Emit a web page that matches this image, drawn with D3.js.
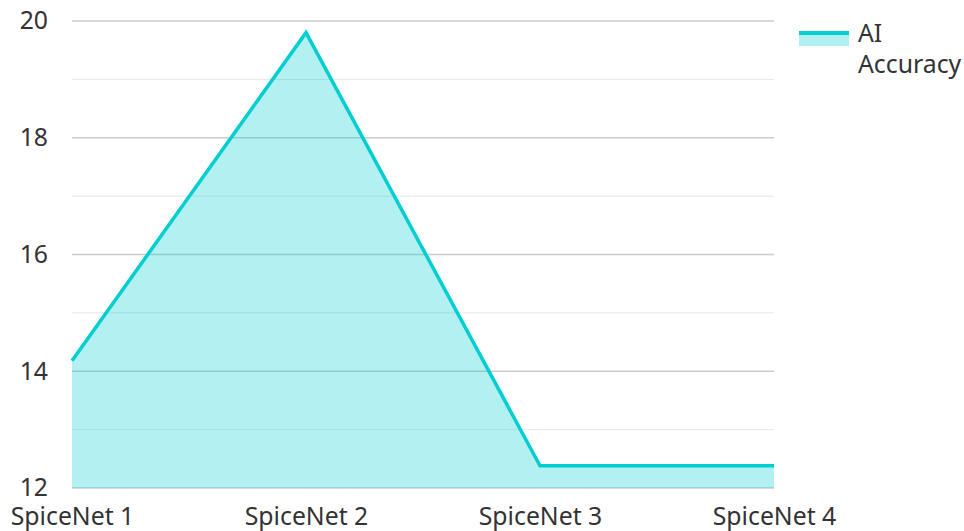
<!DOCTYPE html>
<html><head><meta charset="utf-8">
<script src="https://cdn.jsdelivr.net/npm/d3@7"></script>
<style>
html,body{margin:0;padding:0;background:#fff;}
svg text{font-family:"Noto Sans","Open Sans",sans-serif;fill:#333;}
</style></head>
<body><svg id="c" width="964" height="531"></svg>
<script>
const categories = ["SpiceNet 1", "SpiceNet 2", "SpiceNet 3", "SpiceNet 4"];
const accuracy = [14.18, 19.8, 12.38, 12.38];
const seriesName = ["AI", "Accuracy"];
const majorTicks = [12, 14, 16, 18, 20];
const minorTicks = [13, 15, 17, 19];

const color = "#00CED1";
const svg = d3.select("#c");
const mLeft = 72, mRight = 774, mTop = 21, mBottom = 488;
const fontSize = 24.8;

const x = d3.scalePoint().domain(categories).range([mLeft, mRight]).padding(0);
const y = d3.scaleLinear().domain([12, 20]).range([mBottom, mTop]);

// minor grid
svg.append("g").selectAll("line").data(minorTicks).join("line")
  .attr("x1", mLeft).attr("x2", mRight)
  .attr("y1", d => y(d)).attr("y2", d => y(d))
  .attr("stroke", "#e6e6e6").attr("stroke-width", 1);
// major grid
svg.append("g").selectAll("line").data(majorTicks).join("line")
  .attr("x1", mLeft).attr("x2", mRight)
  .attr("y1", d => y(d)).attr("y2", d => y(d))
  .attr("stroke", "#cccccc").attr("stroke-width", 1.5);

const data = categories.map((c, i) => ({c, v: accuracy[i]}));

svg.append("path").datum(data)
  .attr("d", d3.area().x(d => x(d.c)).y0(y(12)).y1(d => y(d.v)))
  .attr("fill", color).attr("fill-opacity", 0.3);

svg.append("path").datum(data)
  .attr("d", d3.line().x(d => x(d.c)).y(d => y(d.v)))
  .attr("fill", "none").attr("stroke", color).attr("stroke-width", 3.5);

// y axis labels
const yAxis = d3.axisLeft(y).tickValues(majorTicks).tickSize(0).tickPadding(0);
const gy = svg.append("g").attr("transform", `translate(48,0)`).call(yAxis);
gy.select(".domain").remove();
gy.selectAll("text").attr("font-size", fontSize).attr("fill", "#333")
  .style("font-family", '"Noto Sans","Open Sans",sans-serif');

// x axis labels
const xAxis = d3.axisBottom(x).tickSize(0).tickPadding(0);
const gx = svg.append("g").attr("transform", `translate(0,507)`).call(xAxis);
gx.select(".domain").remove();
gx.selectAll("text").attr("font-size", fontSize).attr("fill", "#333")
  .style("font-family", '"Noto Sans","Open Sans",sans-serif');

// legend
const lg = svg.append("g").attr("transform", "translate(799,0)");
lg.append("rect").attr("x", 0).attr("y", 31).attr("width", 50).attr("height", 15)
  .attr("fill", color).attr("fill-opacity", 0.3);
lg.append("line").attr("x1", 0).attr("x2", 50).attr("y1", 33).attr("y2", 33)
  .attr("stroke", color).attr("stroke-width", 4);
lg.selectAll("text.lt").data(seriesName).join("text").attr("class", "lt")
  .attr("x", 59).attr("y", (d, i) => 42 + i * 31)
  .attr("font-size", fontSize).text(d => d);
</script></body></html>
